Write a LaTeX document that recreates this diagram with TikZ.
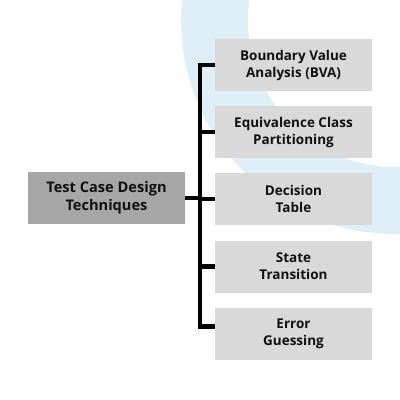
\documentclass[tikz,border=0pt]{standalone}
\usepackage{fontspec}
\setmainfont{Open Sans}
\definecolor{ringblue}{HTML}{DFEFF8}
\definecolor{boxgray}{HTML}{D9D9D9}
\definecolor{rootgray}{HTML}{A6A6A6}
\definecolor{txt}{HTML}{111111}
\tikzset{
  leaf/.style={fill=boxgray, minimum width=157pt, minimum height=52pt, inner sep=0pt, align=center, text=txt, font=\fontsize{13.5}{17}\selectfont\bfseries},
  rootbox/.style={fill=rootgray, minimum width=157pt, minimum height=52pt, inner sep=0pt, align=center, text=txt, font=\fontsize{14.6}{18}\selectfont\bfseries},
  bracket/.style={draw=black, line width=4.3pt, line join=miter, line cap=butt}
}
\begin{document}
\begin{tikzpicture}[x=1pt,y=-1pt]
\useasboundingbox (0,0) rectangle (400,400);
\begin{scope}
\clip (0,0) rectangle (400,400);
\fill[ringblue, even odd rule] (395,20) circle (214pt) (395,20) circle (147pt);
\end{scope}
\node[rootbox] (root) at (106.5,198) {Test Case Design\\Techniques};
\node[leaf] (b1) at (293.5,65) {Boundary Value\\Analysis (BVA)};
\node[leaf] (b2) at (293.5,132) {Equivalence Class\\Partitioning};
\node[leaf] (b3) at (293.5,199) {Decision\\Table};
\node[leaf] (b4) at (293.5,266.5) {State\\Transition};
\node[leaf] (b5) at (293.5,333.5) {Error\\Guessing};
\coordinate (sp) at (200,0);
\coordinate (e5) at ([yshift=7pt]b5.west);
\draw[bracket] (b1.west) -- (b1.west -| sp) -- (e5 -| sp) -- (e5);
\draw[bracket] (b2.west) -- (b2.west -| sp);
\draw[bracket] (b3.west) -- (b3.west -| sp);
\draw[bracket] (b4.west) -- (b4.west -| sp);
\draw[bracket] (root.east) -- (root.east -| sp);
\end{tikzpicture}
\end{document}
